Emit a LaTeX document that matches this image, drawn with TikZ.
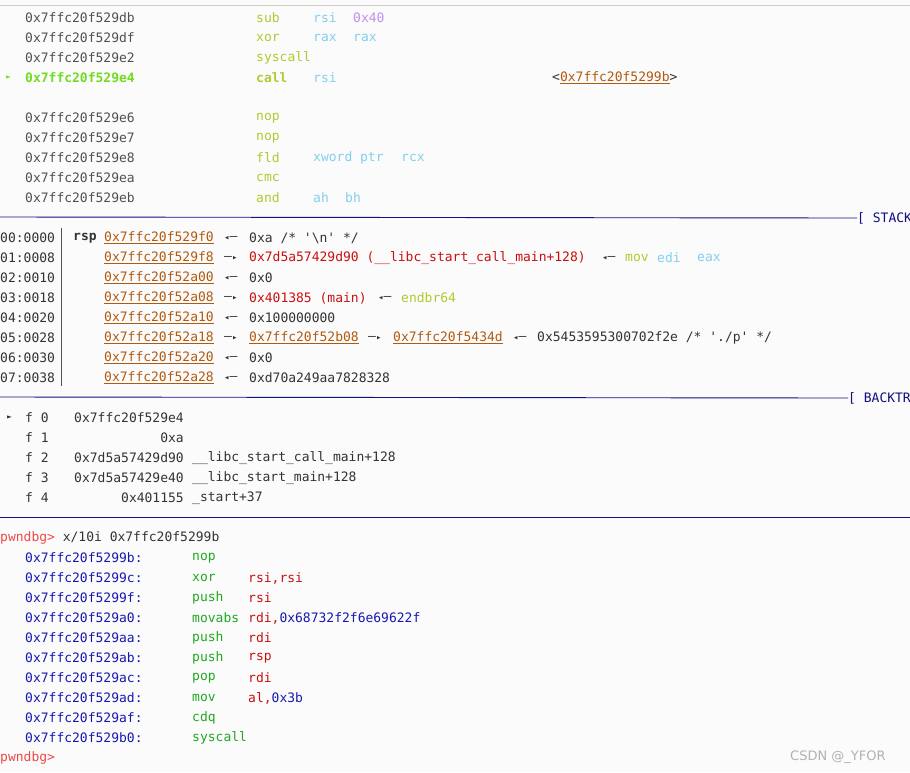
\documentclass[tikz,border=0pt]{standalone}
\usepackage{fontspec}
\newfontfamily\mono{DejaVu Sans Mono}
\definecolor{bg}{HTML}{FBFBFB}
\definecolor{gaddr}{HTML}{505050}
\definecolor{ylw}{HTML}{B2C930}
\definecolor{reg}{HTML}{80D0F0}
\definecolor{purp}{HTML}{C090F0}
\definecolor{cur}{HTML}{70DD20}
\definecolor{lnk}{HTML}{B05A10}
\definecolor{rd}{HTML}{C81010}
\definecolor{bl}{HTML}{1818B0}
\definecolor{gr}{HTML}{20A820}
\definecolor{pk}{HTML}{F04848}
\definecolor{sep}{HTML}{101080}
\definecolor{txt}{HTML}{333333}
\tikzset{t/.style={inner sep=0pt,anchor=west,font=\mono\fontsize{13}{14}\selectfont,text=txt},
 r/.style={t,anchor=east}, sepl/.style={draw=sep,line width=0.9pt}}
\newcommand\lk[1]{\underline{#1}}
\newcommand\la{{\fontsize{9}{9}\selectfont◂}—}
\newcommand\ra{—{\fontsize{9}{9}\selectfont▸}}
\begin{document}
\begin{tikzpicture}[x=1pt,y=-1pt]
\fill[bg] (0,0) rectangle (910,772);
\useasboundingbox (0,0) rectangle (910,772);
\draw[gray!40,line width=0.8pt] (0,5) -- (910,5);
% disassembly
\foreach \y/\a/\m in {18/db/sub,38/df/xor,58/e2/syscall,118/e6/nop,138/e7/nop,158/e8/fld,178/ea/cmc,198/eb/and}{
 \node[t,text=gaddr] (a\a) at (25,\y) {0x7ffc20f529\a};
 \node[t,text=ylw] (m\a) at (256,\y) {\m};}
\node[t,text=reg] (o1) at (313,18) {rsi};
\node[t,text=purp] (o2) at (353,18) {0x40};
\node[t,text=reg] (o3) at (313,38) {rax};
\node[t,text=reg] (o4) at (353,38) {rax};
\node[t,text=cur,font=\mono\fontsize{8}{8}\selectfont] (mk) at (6,78) {►};
\node[t,text=cur] (ae4) at (25,78) {\bfseries 0x7ffc20f529e4};
\node[t,text=ylw] (me4) at (256,78) {\bfseries call};
\node[t,text=reg] (o5) at (313,78) {rsi};
\node[t] (o6) at (552,78) {<\textcolor{lnk}{\lk{0x7ffc20f5299b}}>};
\node[t,text=reg] (o7) at (313,158) {xword ptr};
\node[t,text=reg] (o8) at (401,158) {rcx};
\node[t,text=reg] (o9) at (313,198) {ah};
\node[t,text=reg] (o10) at (345,198) {bh};
% stack separator
\node[t,text=sep] (stk) at (857,218) {[ STACK};
\draw[sepl] (0,217) -- (stk.west);
\draw[gaddr,line width=0.8pt] (61,228) -- (61,386);
\foreach \i/\o/\a in {0/0000/f529f0,1/0008/f529f8,2/0010/f52a00,3/0018/f52a08,4/0020/f52a10,5/0028/f52a18,6/0030/f52a20,7/0038/f52a28}{
 \node[t] (s\i) at (0,238+20*\i) {0\i:\o};
 \node[t,text=lnk] (sa\i) at (104,238+20*\i) {\lk{0x7ffc20\a}};}
\node[t] (rsp) at (73,238) {\bfseries rsp};
\foreach \i/\c in {0/\la,1/\ra,2/\la,3/\ra,4/\la,5/\ra,6/\la,7/\la}{\node[t] (ar\i) at (224,238+20*\i) {\c};}
\node[t] (v0) at (249,238) {0xa /* '\textbackslash n' */};
\node[t,text=rd] (v1) at (249,258) {0x7d5a57429d90 (\_\_libc\_start\_call\_main+128)};
\node[t] (v1b) at (602,258) {\la};
\node[t,text=ylw] (v1c) at (625,258) {mov};
\node[t,text=reg] (v1d) at (657,258) {edi};
\node[t,text=reg] (v1e) at (697,258) {eax};
\node[t] (v2) at (249,278) {0x0};
\node[t,text=rd] (v3) at (249,298) {0x401385 (main)};
\node[t] (v3b) at (378,298) {\la};
\node[t,text=ylw] (v3c) at (401,298) {endbr64};
\node[t] (v4) at (249,318) {0x100000000};
\node[t,text=lnk] (v5) at (249,338) {\lk{0x7ffc20f52b08}};
\node[t] (v5b) at (368,338) {\ra};
\node[t,text=lnk] (v5c) at (393,338) {\lk{0x7ffc20f5434d}};
\node[t] (v5d) at (513,338) {\la};
\node[t] (v5e) at (537,338) {0x5453595300702f2e /* './p' */};
\node[t] (v6) at (249,358) {0x0};
\node[t] (v7) at (249,378) {0xd70a249aa7828328};
% backtrace
\node[t,text=sep] (bt) at (848,398) {[ BACKTRA};
\draw[sepl] (0,397) -- (bt.west);
\node[t,font=\mono\fontsize{8}{8}\selectfont] (mk2) at (7,418) {►};
\foreach \i/\a/\s in {0/0x7ffc20f529e4/{},1/0xa/{},2/0x7d5a57429d90/\_\_libc\_start\_call\_main+128,3/0x7d5a57429e40/\_\_libc\_start\_main+128,4/0x401155/\_start+37}{
 \node[t] (f\i) at (25,418+20*\i) {f \i};
 \node[r] (fa\i) at (184,418+20*\i) {\a};
 \node[t] (fs\i) at (192,418+20*\i) {\s};}
\draw[sepl] (0,517) -- (910,517);
% x/10i
\node[t] (p1) at (0,538) {\textcolor{pk}{pwndbg>} x/10i 0x7ffc20f5299b};
\foreach \i/\a/\m in {0/99b/nop,1/99c/xor,2/99f/push,3/9a0/movabs,4/9aa/push,5/9ab/push,6/9ac/pop,7/9ad/mov,8/9af/cdq,9/9b0/syscall}{
 \node[t,text=bl] (x\i) at (25,558+20*\i) {0x7ffc20f52\a:};
 \node[t,text=gr] (xm\i) at (192,558+20*\i) {\m};}
\node[t,text=rd] (xo1) at (248,578) {rsi,rsi};
\node[t,text=rd] (xo2) at (248,598) {rsi};
\node[t] (xo3) at (248,618) {\textcolor{rd}{rdi,}\textcolor{bl}{0x68732f2f6e69622f}};
\node[t,text=rd] (xo4) at (248,638) {rdi};
\node[t,text=rd] (xo5) at (248,658) {rsp};
\node[t,text=rd] (xo6) at (248,678) {rdi};
\node[t] (xo7) at (248,698) {\textcolor{rd}{al,}\textcolor{bl}{0x3b}};
\node[t,text=pk] (p2) at (0,758) {pwndbg>};
\node[t,text=gray!60,font=\fontspec{DejaVu Sans}\fontsize{13}{14}\selectfont] (wm) at (790,757) {CSDN @\_YFOR};
\end{tikzpicture}
\end{document}
